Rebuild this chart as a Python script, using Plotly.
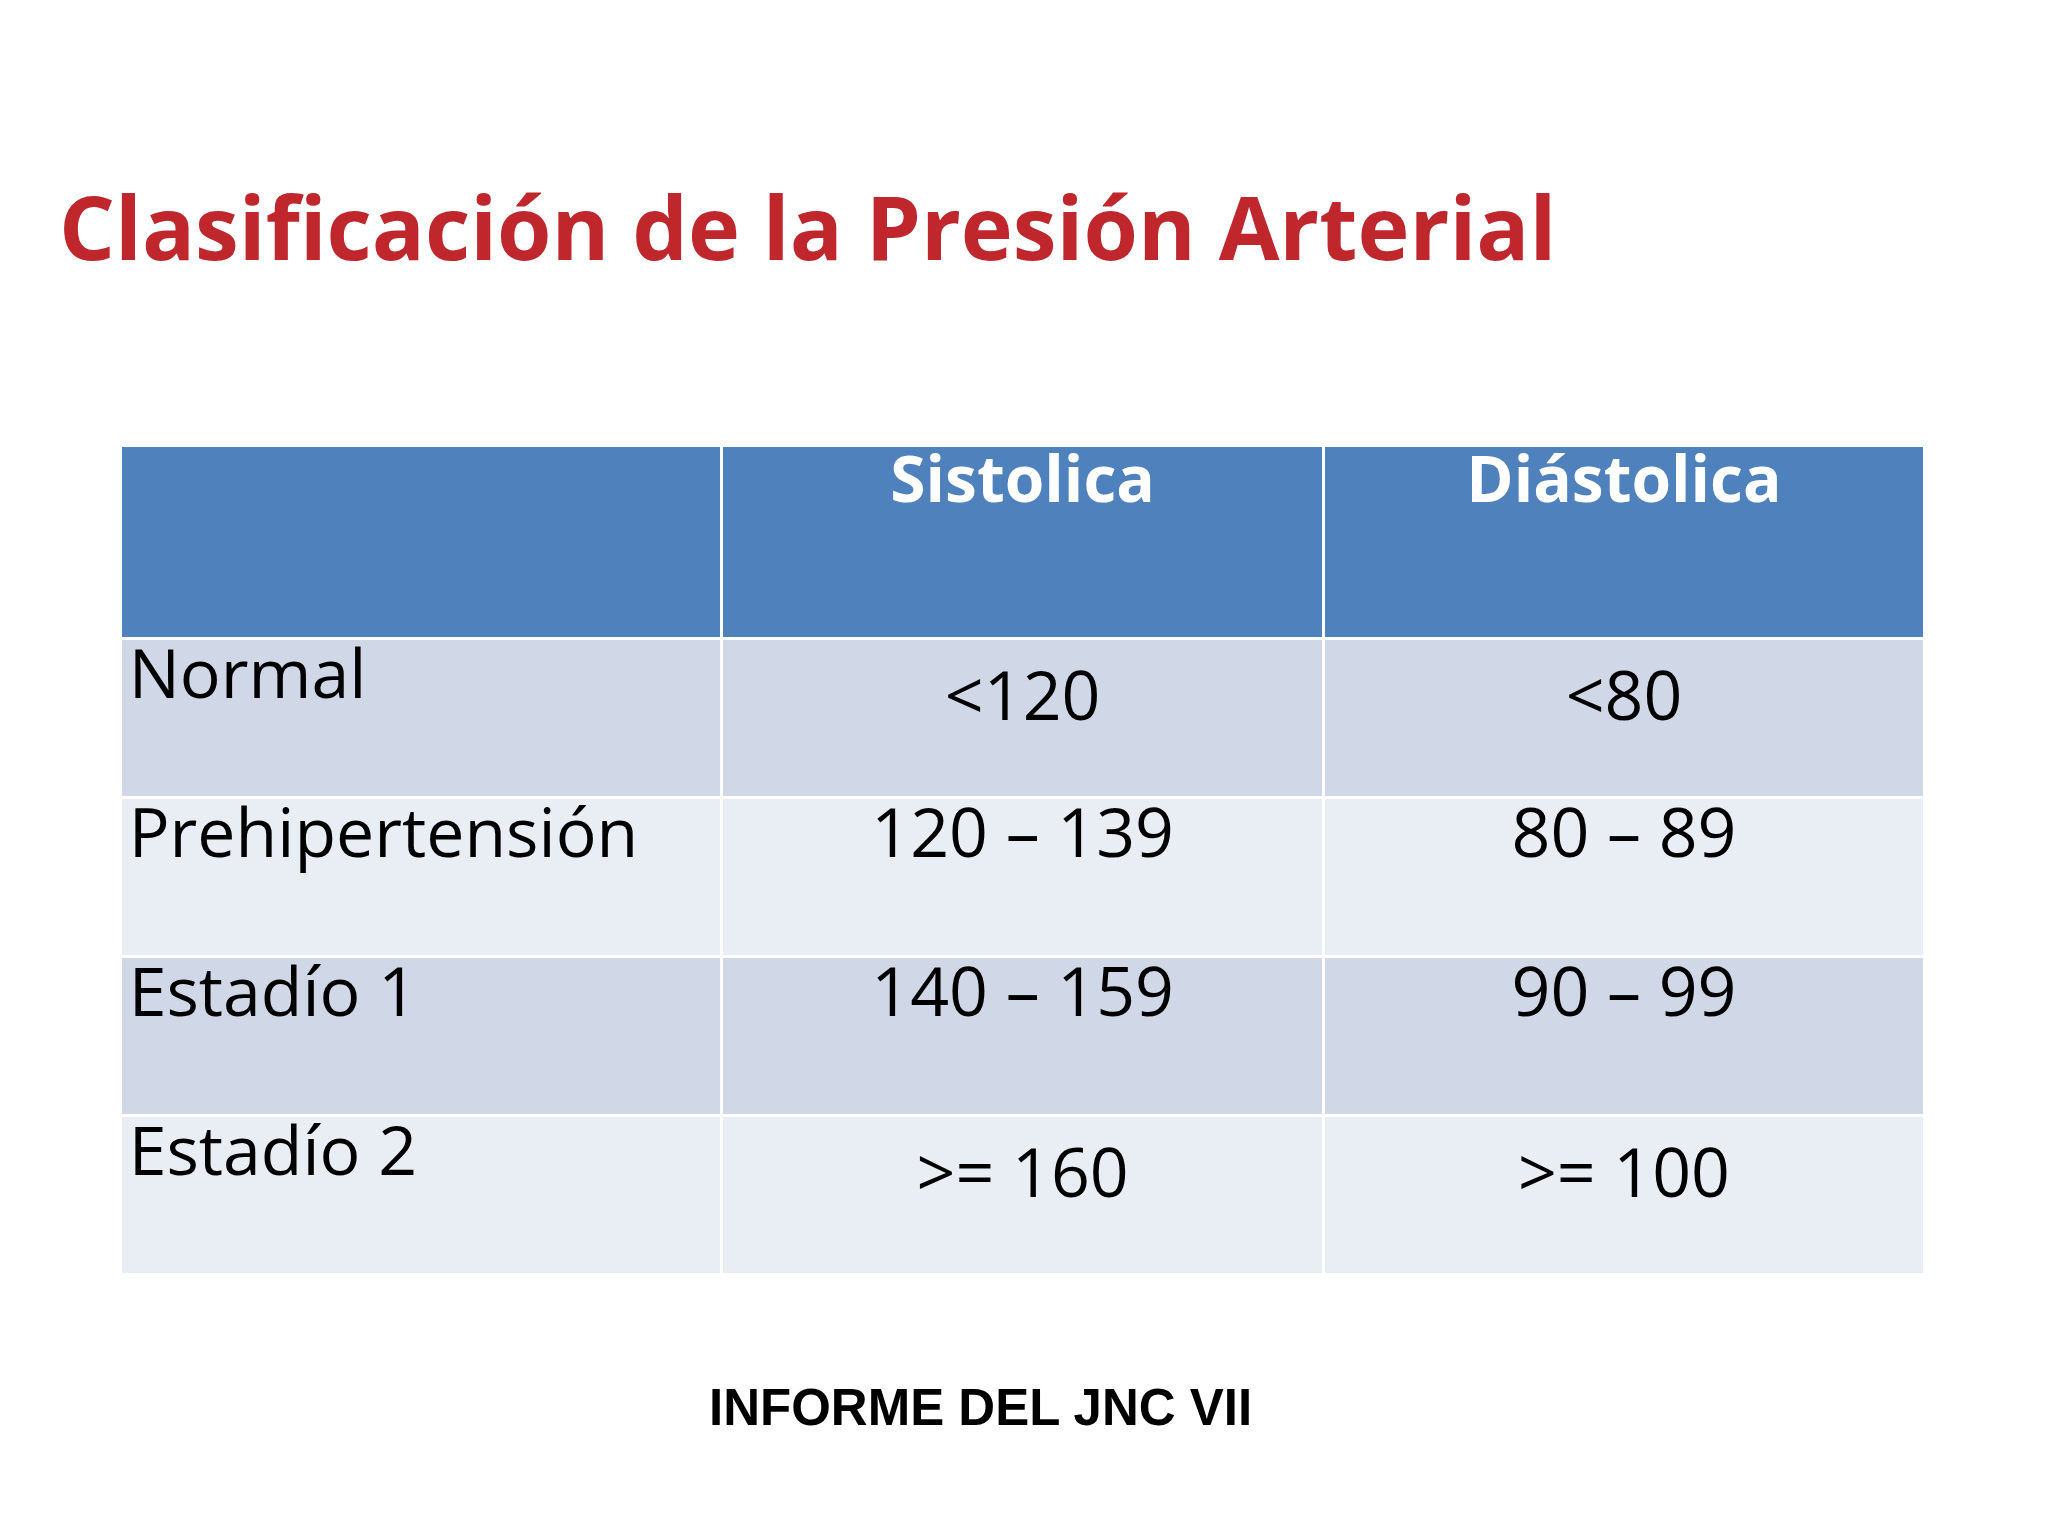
import plotly.graph_objects as go

headers = ["", "Sistolica", "Diástolica"]
categories = ["Normal", "Prehipertensión", "Estadío 1", "Estadío 2"]
sistolica = ["<120", "120 – 139", "140 – 159", ">= 160"]
diastolica = ["<80", "80 – 89", "90 – 99", ">= 100"]
title = "Clasificación de la Presión Arterial"
footer = "INFORME DEL JNC VII"

row_colors = ["#D0D8E8", "#E9EDF4", "#D0D8E8", "#E9EDF4"]

fig = go.Figure(go.Table(
    domain=dict(x=[0.055, 0.936], y=[0.17, 0.715]),
    columnwidth=[1, 1, 1],
    header=dict(values=headers, fill_color="#4F81BD", line=dict(color="white", width=3),
                align="center", height=193,
                font=dict(family="Open Sans", size=64, color="white", weight="bold")),
    cells=dict(values=[categories, sistolica, diastolica],
               fill_color=[row_colors] * 3, line=dict(color="white", width=3),
               align=["left", "center", "center"], height=159,
               font=dict(family="Open Sans", size=68, color="black")),
))
fig.add_annotation(x=0.024, y=0.858, xref="paper", yref="paper", xanchor="left", yanchor="middle",
                   text=title, showarrow=False,
                   font=dict(family="Open Sans", size=88, color="#C0272D", weight="bold"))
fig.add_annotation(x=0.475, y=0.089, xref="paper", yref="paper", xanchor="center", yanchor="middle",
                   text=footer, showarrow=False,
                   font=dict(family="Liberation Sans", size=51, color="black", weight="bold"))
fig.update_layout(width=2048, height=1536, margin=dict(l=0, r=0, t=0, b=0),
                  paper_bgcolor="white", plot_bgcolor="white")
fig.write_html("out.html")
